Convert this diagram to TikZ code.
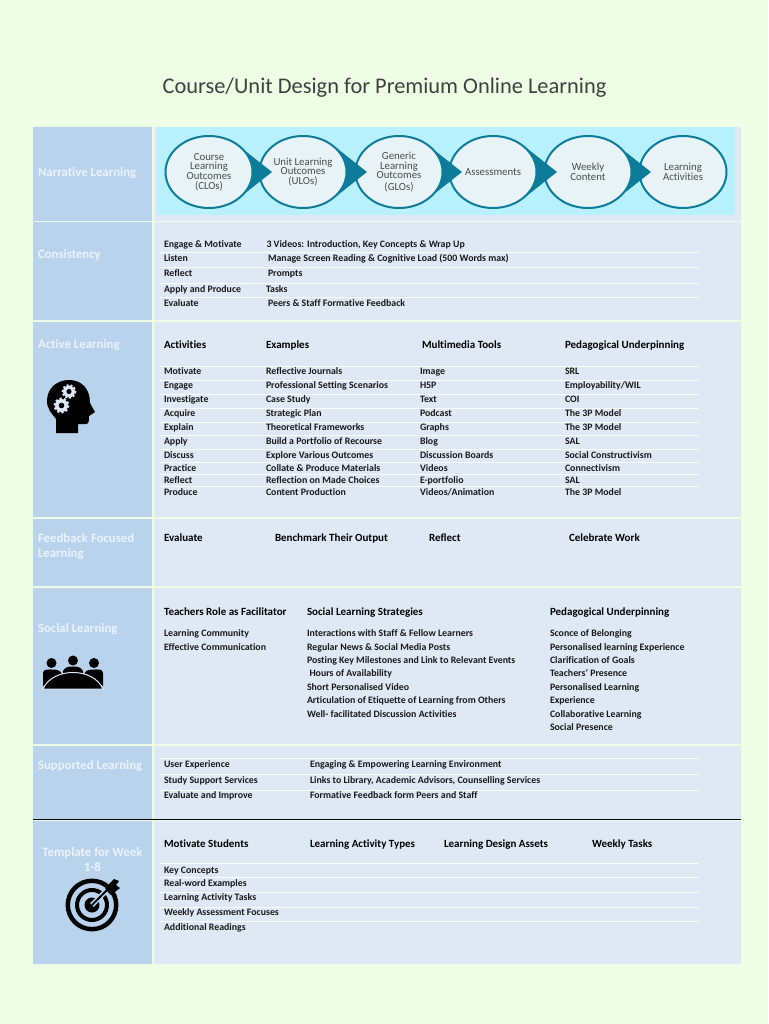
\documentclass[tikz,border=0pt]{standalone}
\usepackage{fontspec}
\setmainfont[Ligatures=NoCommon]{Carlito}
\usetikzlibrary{shapes.geometric, positioning}
\definecolor{pagegreen}{HTML}{EFFFE6}
\definecolor{bandblue}{HTML}{B9D3EC}
\definecolor{rowblue}{HTML}{DEE9F5}
\definecolor{panelcyan}{HTML}{B9F0FD}
\definecolor{ringteal}{HTML}{0E7C98}
\definecolor{ringfill}{HTML}{E8F3F7}
\definecolor{bandtext}{HTML}{EAF3FB}
\tikzset{
	x=1pt, y=-1pt, % reference pixels, y runs downwards
	every node/.style={inner sep=0pt, outer sep=0pt},
	stage/.style={ellipse, draw=ringteal, line width=2pt, fill=ringfill, minimum width=87pt, minimum height=72pt, align=center, text=black!70, font=\fontsize{10.8}{9.8}\selectfont},
	chevron/.style={fill=ringteal},
	band/.style={fill=bandblue},
	rowbg/.style={fill=rowblue},
	rowline/.style={draw=white, line width=0.7pt},
	bandlabel/.style={anchor=west, text=bandtext, align=left, yshift=-1pt, text height=8.5pt, text depth=2.5pt, font=\fontsize{12.8}{15}\selectfont\bfseries},
	cell/.style={anchor=west, text=black!90, yshift=-1pt, text height=7pt, text depth=2pt, font=\fontsize{9.85}{11}\selectfont\bfseries},
	headcell/.style={anchor=west, text=black, yshift=-1.4pt, text height=8pt, text depth=2.4pt, font=\fontsize{11}{12}\selectfont\bfseries},
}

\begin{document}
\begin{tikzpicture}
	\useasboundingbox (0,0) rectangle (768,1024);
	\fill[pagegreen] (0,0) rectangle (768,1024);

	% left bands and right rows
	\fill[band] (33,127) rectangle (152,221) (33,222) rectangle (152,320) (33,322) rectangle (152,517)
		(33,519) rectangle (152,586) (33,588) rectangle (152,744) (33,746) rectangle (152,819) (33,821) rectangle (152,964);
	\fill[rowbg] (154,127) rectangle (741,221) (154,222) rectangle (741,320) (154,322) rectangle (741,517)
		(154,519) rectangle (741,586) (154,588) rectangle (741,744) (154,746) rectangle (741,819) (154,821) rectangle (741,964);
	\fill[panelcyan] (157,127) rectangle (735,215);
	\draw[black, line width=1pt] (33,819.5) -- (741,819.5);

	\node[anchor=base, font=\fontsize{22.4}{24}\selectfont, text=black!75] (title) at (384.5,94) {Course/Unit Design for Premium Online Learning};

	% process chain, last one first so that each circle lies on its arrow
	\node[stage] (activities) at (683,172) {Learning\\Activities};
	\coordinate (tipactivities) at (651,172);
	\fill[chevron] (tipactivities) -- ++(-33,-26) -- ++(0,52) -- cycle;
	\node[stage] (content) at (588,172) {Weekly\\Content};
	\coordinate (tipcontent) at (557,172);
	\fill[chevron] (tipcontent) -- ++(-33,-26) -- ++(0,52) -- cycle;
	\node[stage] (assess) at (493,172) {Assessments};
	\coordinate (tipassess) at (462,172);
	\fill[chevron] (tipassess) -- ++(-33,-26) -- ++(0,52) -- cycle;
	\node[stage] (glos) at (399,172) {Generic\\Learning\\Outcomes\\[2pt](GLOs)};
	\coordinate (tipglos) at (367,172);
	\fill[chevron] (tipglos) -- ++(-33,-26) -- ++(0,52) -- cycle;
	\node[stage] (ulos) at (303,172) {Unit Learning\\Outcomes\\(ULOs)};
	\coordinate (tipulos) at (272,172);
	\fill[chevron] (tipulos) -- ++(-33,-26) -- ++(0,52) -- cycle;
	\node[stage] (clos) at (209,172) {Course\\Learning\\Outcomes\\(CLOs)};

	% band labels
	\node[bandlabel] (narrative) at (38,172.5) {Narrative Learning};
	\node[bandlabel] (consistency) at (38,254.5) {Consistency};
	\node[bandlabel] (active) at (38,344) {Active Learning};
	\node[bandlabel] (feedback) at (38,553) {Feedback Focused\\Learning};
	\node[bandlabel] (social) at (38,628) {Social Learning};
	\node[bandlabel] (supported) at (38,765) {Supported Learning};
	\node[bandlabel, anchor=center, align=center] (template) at (92.5,867) {Template for Week\\1-8};

	% separators
	\draw[rowline] (160,252.3) -- (698,252.3) (160,267.3) -- (698,267.3) (160,283.3) -- (698,283.3) (160,297.3) -- (698,297.3);
	\draw[rowline] (160,366) -- (698,366) (160,380) -- (698,380) (160,394) -- (698,394) (160,408) -- (698,408) (160,422) -- (698,422)
		(160,435) -- (698,435) (160,449) -- (698,449) (160,462) -- (698,462) (160,474) -- (698,474) (160,486) -- (698,486);
	\draw[rowline] (160,758) -- (698,758) (160,774) -- (698,774) (160,790) -- (698,790);
	\draw[rowline] (160,863) -- (698,863) (160,877) -- (698,877) (160,892) -- (698,892) (160,907) -- (698,907) (160,921) -- (698,921);

	% consistency
	\node[cell] (c1) at (164,244) {Engage \& Motivate};
	\node[cell] (c2) at (164,258) {Listen};
	\node[cell] (c3) at (164,273) {Reflect};
	\node[cell] (c4) at (164,288.5) {Apply and Produce};
	\node[cell] (c5) at (164,303) {Evaluate};
	\node[cell] (d1) at (266.5,244) {3 Videos: Introduction, Key Concepts \& Wrap Up};
	\node[cell] (d2) at (268,258) {Manage Screen Reading \& Cognitive Load (500 Words max)};
	\node[cell] (d3) at (268,273) {Prompts};
	\node[cell] (d4) at (266,288.5) {Tasks};
	\node[cell] (d5) at (268,303) {Peers \& Staff Formative Feedback};

	% active learning
	\node[headcell] (activehead1) at (164,344) {Activities};
	\node[headcell] (activehead2) at (266,344) {Examples};
	\node[headcell] (activehead3) at (422,344) {Multimedia Tools};
	\node[headcell] (activehead4) at (565,344) {Pedagogical Underpinning};
	\node[cell] (a1) at (164,371) {Motivate};
	\node[cell] (a2) at (164,385) {Engage};
	\node[cell] (a3) at (164,399) {Investigate};
	\node[cell] (a4) at (164,413) {Acquire};
	\node[cell] (a5) at (164,427) {Explain};
	\node[cell] (a6) at (164,441) {Apply};
	\node[cell] (a7) at (164,455) {Discuss};
	\node[cell] (a8) at (164,467.5) {Practice};
	\node[cell] (a9) at (164,480) {Reflect};
	\node[cell] (a10) at (164,492) {Produce};
	\node[cell] (e1) at (266,371) {Reflective Journals};
	\node[cell] (e2) at (266,385) {Professional Setting Scenarios};
	\node[cell] (e3) at (266,399) {Case Study};
	\node[cell] (e4) at (266,413) {Strategic Plan};
	\node[cell] (e5) at (266,427) {Theoretical Frameworks};
	\node[cell] (e6) at (266,441) {Build a Portfolio of Recourse};
	\node[cell] (e7) at (266,455) {Explore Various Outcomes};
	\node[cell] (e8) at (266,467.5) {Collate \& Produce Materials};
	\node[cell] (e9) at (266,480) {Reflection on Made Choices};
	\node[cell] (e10) at (266,492) {Content Production};
	\node[cell] (m1) at (420,371) {Image};
	\node[cell] (m2) at (420,385) {H5P};
	\node[cell] (m3) at (420,399) {Text};
	\node[cell] (m4) at (420,413) {Podcast};
	\node[cell] (m5) at (420,427) {Graphs};
	\node[cell] (m6) at (420,441) {Blog};
	\node[cell] (m7) at (420,455) {Discussion Boards};
	\node[cell] (m8) at (420,467.5) {Videos};
	\node[cell] (m9) at (420,480) {E-portfolio};
	\node[cell] (m10) at (420,492) {Videos/Animation};
	\node[cell] (p1) at (565,371) {SRL};
	\node[cell] (p2) at (565,385) {Employability/WIL};
	\node[cell] (p3) at (565,399) {COI};
	\node[cell] (p4) at (565,413) {The 3P Model};
	\node[cell] (p5) at (565,427) {The 3P Model};
	\node[cell] (p6) at (565,441) {SAL};
	\node[cell] (p7) at (565,455) {Social Constructivism};
	\node[cell] (p8) at (565,467.5) {Connectivism};
	\node[cell] (p9) at (565,480) {SAL};
	\node[cell] (p10) at (565,492) {The 3P Model};

	% feedback
	\node[headcell] (f1) at (164,537) {Evaluate};
	\node[headcell] (f2) at (275,537) {Benchmark Their Output};
	\node[headcell] (f3) at (429,537) {Reflect};
	\node[headcell] (f4) at (569,537) {Celebrate Work};

	% social
	\node[headcell] (socialhead1) at (164,611) {Teachers Role as Facilitator};
	\node[headcell] (socialhead2) at (307,611) {Social Learning Strategies};
	\node[headcell] (socialhead3) at (550,611) {Pedagogical Underpinning};
	\node[cell] (s1) at (164,633) {Learning Community};
	\node[cell] (s2) at (164,646.5) {Effective Communication};
	\node[cell] (t1) at (307,633) {Interactions with Staff \& Fellow Learners};
	\node[cell] (t2) at (307,646.5) {Regular News \& Social Media Posts};
	\node[cell] (t3) at (307,660) {Posting Key Milestones and Link to Relevant Events};
	\node[cell] (t4) at (309.5,673) {Hours of Availability};
	\node[cell] (t5) at (307,687) {Short Personalised Video};
	\node[cell] (t6) at (307,700) {Articulation of Etiquette of Learning from Others};
	\node[cell] (t7) at (307,713.5) {Well- facilitated Discussion Activities};
	\node[cell] (u1) at (550,633) {Sconce of Belonging};
	\node[cell] (u2) at (550,646.5) {Personalised learning Experience};
	\node[cell] (u3) at (550,660) {Clarification of Goals};
	\node[cell] (u4) at (550,673) {Teachers’ Presence};
	\node[cell] (u5) at (550,687) {Personalised Learning};
	\node[cell] (u6) at (550,700) {Experience};
	\node[cell] (u7) at (550,713.5) {Collaborative Learning};
	\node[cell] (u8) at (550,726.5) {Social Presence};

	% supported
	\node[cell] (h1) at (164,764) {User Experience};
	\node[cell] (h2) at (164,780) {Study Support Services};
	\node[cell] (h3) at (164,795) {Evaluate and Improve};
	\node[cell] (i1) at (310,764) {Engaging \& Empowering Learning Environment};
	\node[cell] (i2) at (310,780) {Links to Library, Academic Advisors, Counselling Services};
	\node[cell] (i3) at (310,795) {Formative Feedback form Peers and Staff};

	% template
	\node[headcell] (weekhead1) at (164,843) {Motivate Students};
	\node[headcell] (weekhead2) at (310,843) {Learning Activity Types};
	\node[headcell] (weekhead3) at (444,843) {Learning Design Assets};
	\node[headcell] (weekhead4) at (592,843) {Weekly Tasks};
	\node[cell] (w1) at (164,870) {Key Concepts};
	\node[cell] (w2) at (164,883) {Real-word Examples};
	\node[cell] (w3) at (164,897) {Learning Activity Tasks};
	\node[cell] (w4) at (164,912) {Weekly Assessment Focuses};
	\node[cell] (w5) at (164,926.5) {Additional Readings};

	% head icon
	\fill[black] (56,433) -- (78,433) -- (78,424) -- (86,424) .. controls (89,424) and (89,420) .. (89,416)
		-- (95,412) -- (90,403) .. controls (90,388) and (81,380) .. (69,380)
		.. controls (56,380) and (47,389) .. (47,401) .. controls (47,409) and (52,414) .. (56,419) -- cycle;
	\draw[rowblue, line width=1.6pt, dash pattern=on 2pt off 2pt] (69,391.5) circle (6.5);
	\fill[rowblue] (69,391.5) circle (6);
	\fill[black] (69,391.5) circle (2.6);
	\draw[rowblue, line width=1.8pt, dash pattern=on 2.2pt off 2.2pt] (61.5,405.5) circle (7);
	\fill[rowblue] (61.5,405.5) circle (6.5);
	\fill[black] (61.5,405.5) circle (2.8);

	% people icon
	\fill[black] (51.5,663) circle (5) (73,660.5) circle (5) (94,663) circle (5);
	\fill[black] (63,675) .. controls (62,667) and (68,666.5) .. (73,666.5) .. controls (78,666.5) and (84,667) .. (83,675)
		.. controls (76,672) and (70,672) .. (63,675) -- cycle;
	\fill[black] (43,686) -- (43,673) .. controls (43,669) and (48,669.5) .. (52,669.5) .. controls (57,669.5) and (61,670) .. (62,675) -- cycle;
	\fill[black] (103,686) -- (103,673) .. controls (103,669) and (98,669.5) .. (94,669.5) .. controls (89,669.5) and (85,670) .. (84,675) -- cycle;
	\draw[rowblue, line width=1pt, fill=black] (43,689) .. controls (48,678) and (60,672.5) .. (73,672.5) .. controls (86,672.5) and (98,678) .. (103,689) -- cycle;

	% target icon
	\draw[black, line width=4.5pt] (92,905) circle (24.2);
	\draw[black, line width=4pt] (92,905) circle (15);
	\fill[black] (92,905) circle (7.5);
	\draw[bandblue, line width=5pt] (92,905) -- (112,885);
	\draw[black, line width=2pt] (92,905) -- (110,887);
	\fill[black] (105,888) -- (114,879) -- (119,881) -- (116,885) -- (120,888) -- (111,895) -- (108,892) -- cycle;
\end{tikzpicture}
\end{document}
